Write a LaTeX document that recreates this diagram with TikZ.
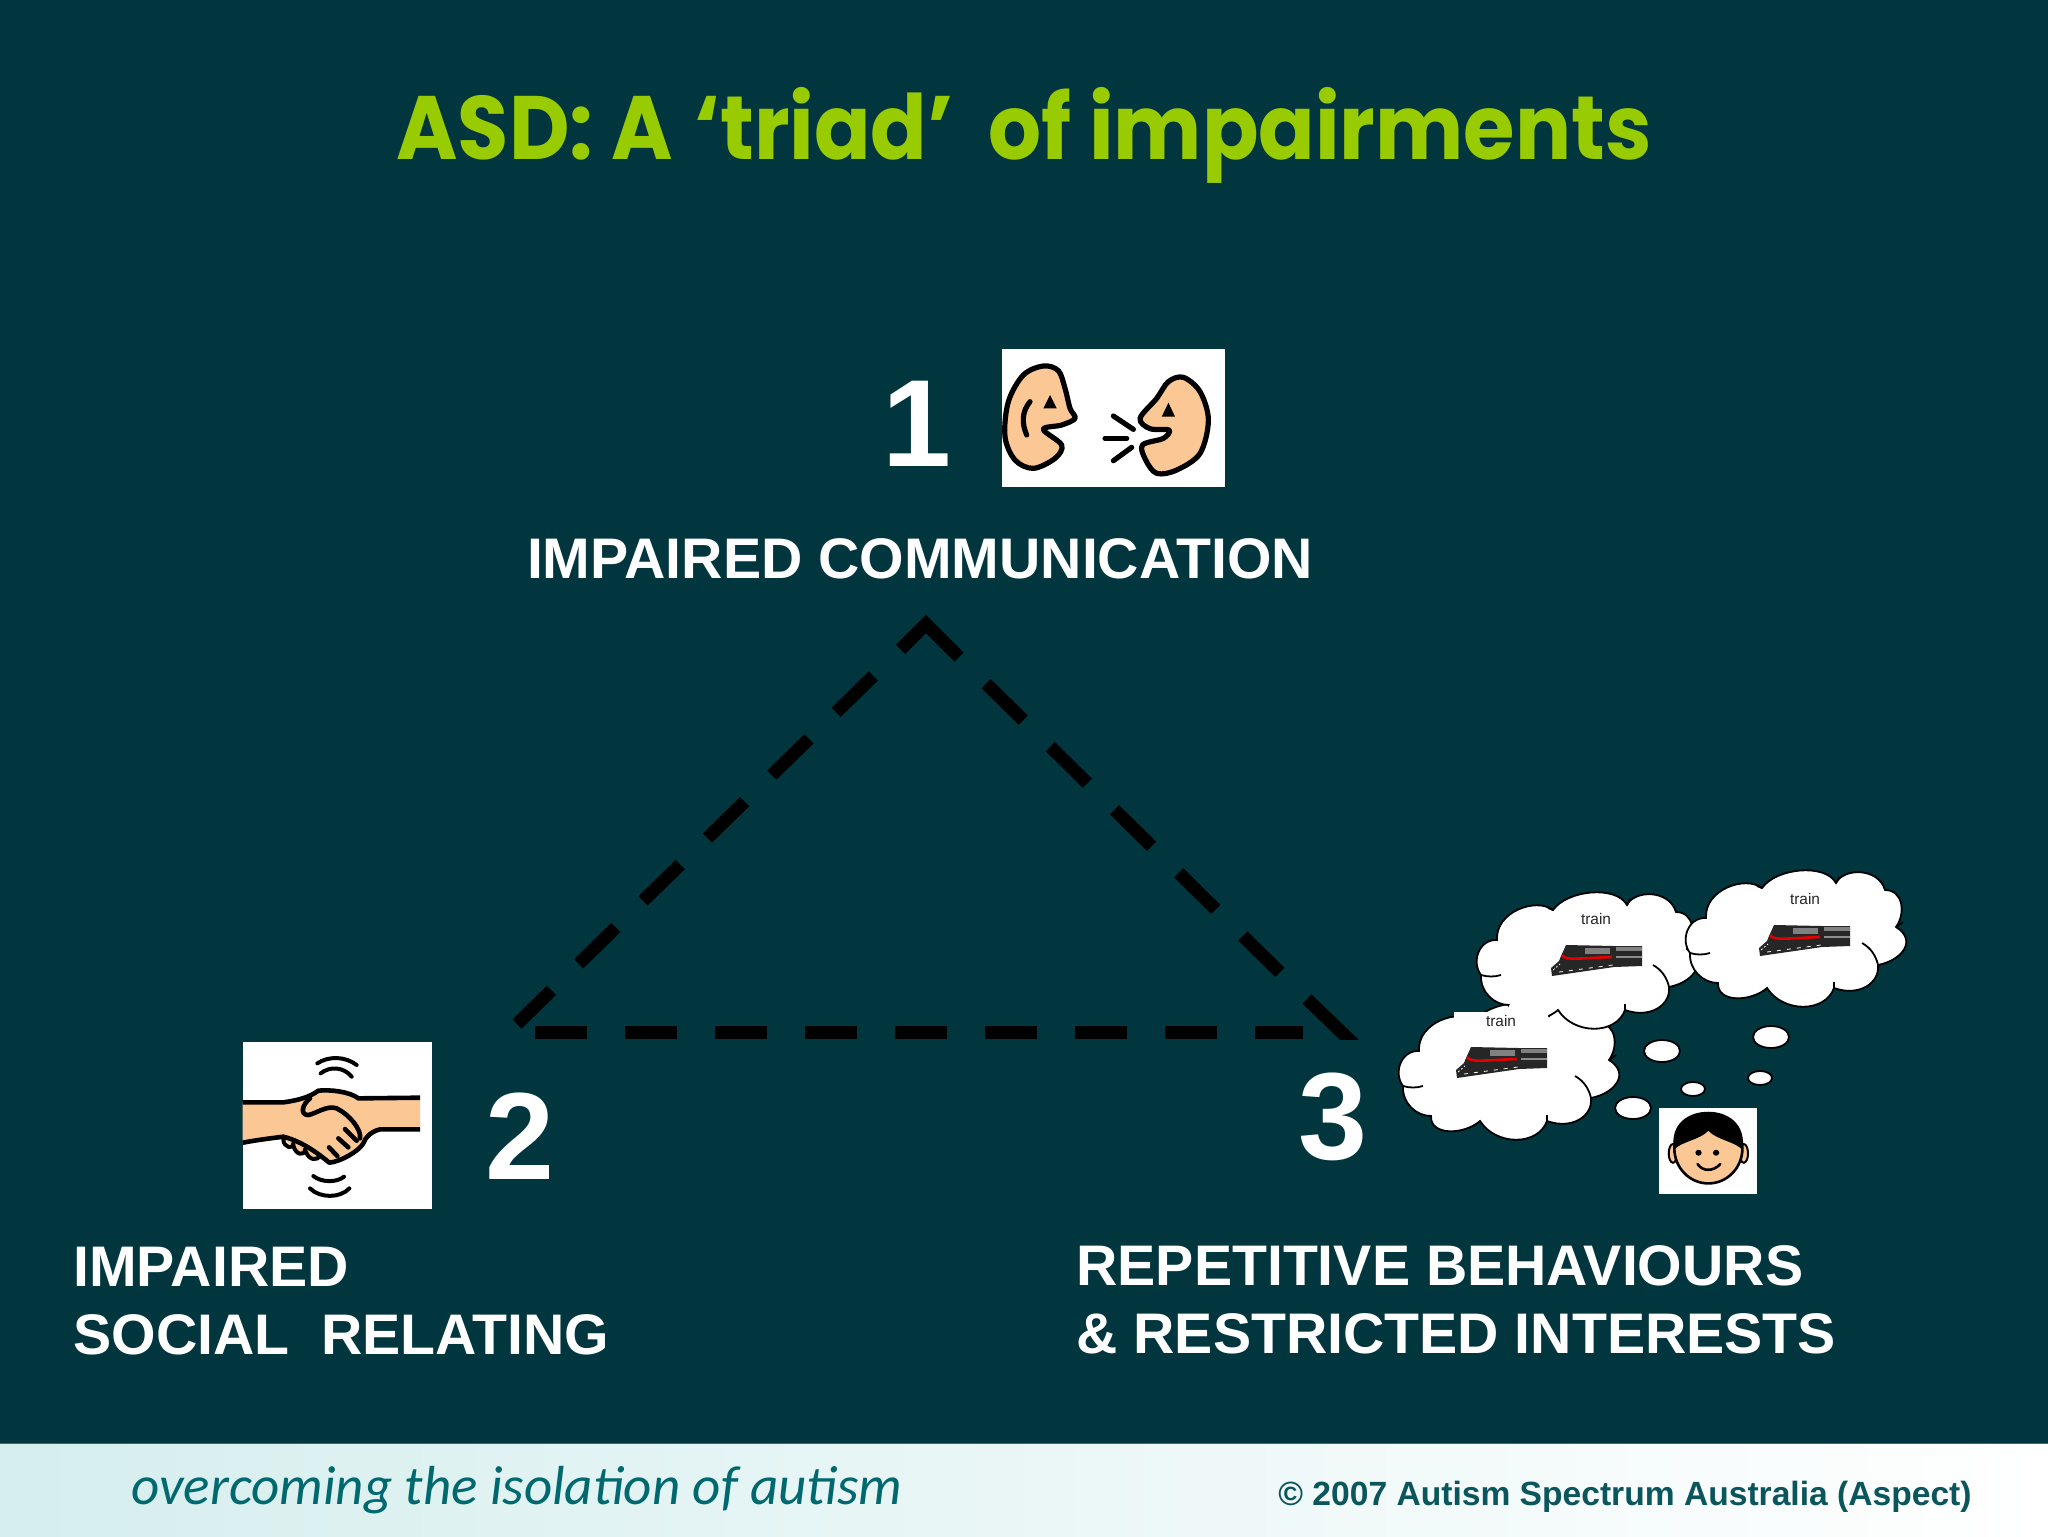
\documentclass[tikz,border=0pt]{standalone}
\usepackage{fontspec}
\setmainfont{Liberation Sans}
\newfontfamily\tagfont{Carlito}
\newfontfamily\titlefont[FakeStretch=0.926]{Poppins}
\usetikzlibrary{shapes.geometric,positioning,calc}

\definecolor{slidebg}{HTML}{02363F}
\definecolor{titlegreen}{HTML}{98CC00}
\definecolor{skin}{HTML}{FBC795}
\definecolor{bandleft}{HTML}{D6EEEE}
\definecolor{bandmid}{HTML}{ECF8F8}
\definecolor{tagteal}{HTML}{00696F}
\definecolor{copyteal}{HTML}{0B565C}

% one thought cloud, local origin is top left of its bounds
\newcommand{\thoughtcloud}[2]{%
  \begin{scope}[shift={(#1,#2)}]
    \draw[cloudline] (21,48) .. controls (19,20) and (60,5) .. (77,18)
      .. controls (91,-2) and (140,-7) .. (151,13)
      .. controls (158,-2) and (193,-3) .. (200,20)
      .. controls (218,20) and (221,43) .. (211,57)
      .. controls (232,70) and (218,90) .. (193,95)
      .. controls (195,113) and (174,127) .. (149,118)
      .. controls (140,143) and (98,143) .. (82,118)
      .. controls (66,132) and (32,133) .. (33,113)
      .. controls (18,113) and (4,100) .. (5,83)
      .. controls (-5,70) and (3,47) .. (21,48) -- cycle;
    \draw[cloudhook] (177,73) .. controls (186,78) and (191,86) .. (193,95);
    \draw[cloudhook] (5,83) .. controls (12,85) and (18,85) .. (25,83);
    \draw[cloudhook] (211,57) -- (218,52);
    \draw[cloudhook] (149,118) -- (149,112);
    \draw[cloudhook] (77,18) -- (72,16);
    \draw[cloudhook] (151,13) -- (154,7);
  \end{scope}}

% small locomotive with carriage, 91 by 33
\newcommand{\trainicon}[2]{%
  \begin{scope}[shift={(#1,#2)}]
    \fill[black!85] (10,13) -- (15,2) -- (63,3) -- (91,3) -- (91,23) -- (63,24) -- (1,33) -- (0,25) -- (8,18) -- cycle;
    \fill[black!50] (34,5) rectangle (59,11);
    \fill[black!50] (65,4) rectangle (91,8);
    \fill[black!45] (65,13) rectangle (91,14.5);
    \draw[red!90!black, line width=1.3pt] (11,12) .. controls (14,18) and (30,15) .. (61,14);
    \draw[white, line width=0.4pt, dash pattern=on 2pt off 3pt] (8,29) -- (62,22);
    \draw[white, line width=0.4pt, dash pattern=on 1pt off 1pt] (2,27) -- (9,21);
  \end{scope}}

\begin{document}
\begin{tikzpicture}[
    x=0.5pt, y=-0.5pt,
    titletext/.style={inner sep=0, anchor=base, text=titlegreen, font=\titlefont\fontsize{45}{50}\selectfont\bfseries},
    numtext/.style={inner sep=0, text=white, font=\fontsize{62}{70}\selectfont\bfseries},
    headtext/.style={inner sep=0, anchor=base west, text=white, font=\fontsize{28.6}{34}\selectfont\bfseries, align=left},
    picbox/.style={fill=white, inner sep=0, anchor=north west},
    triline/.style={black, line width=6.5pt},
    tridash/.style={triline, dash pattern=on 26pt off 19pt},
    cloudline/.style={fill=white, draw=black, line width=0.9pt},
    cloudhook/.style={draw=black, line width=0.9pt},
    bubble/.style={ellipse, fill=white, draw=black, line width=0.9pt, inner sep=0},
    bigbubble/.style={bubble, minimum width=18pt, minimum height=11pt},
    smallbubble/.style={bubble, minimum width=12pt, minimum height=7pt},
    trainlabel/.style={inner sep=0, text=black!85, font=\fontsize{7.7}{9}\selectfont},
    iconline/.style={draw=black, line width=2.6pt, line join=round, line cap=round},
    shakeline/.style={iconline, line width=2.3pt}
]
    \useasboundingbox (0,0) rectangle (2048,1536);
    \fill[slidebg] (0,0) rectangle (2048,1536);

    % Footer band
    \shade[left color=bandleft, middle color=bandmid, right color=white] (0,1443) rectangle (2048,1536);
    \draw[slidebg!75!white, line width=0.5pt] (0,1443) -- (2048,1443);
    \node[inner sep=0, anchor=base west, text=tagteal, font=\tagfont\itshape\fontsize{27.5}{30}\selectfont] (tagline) at (131,1504) {overcoming the isolation of autism};
    \node[inner sep=0, anchor=base east, text=copyteal, font=\fontsize{16.8}{20}\selectfont\bfseries] (copyright) at (1972,1505) {© 2007 Autism Spectrum Australia (Aspect)};

    % Title
    \node[titletext] (title) at (1024,159) {ASD: A\hspace{2pt}\ ‘triad’\hspace{8.5pt}\ of impairments};

    % Numbers and labels
    \node[numtext] (one) at (917,424) {1};
    \node[numtext] (two) at (520,1136) {2};
    \node[numtext] (three) at (1333,1117) {3};
    \node[headtext, anchor=base] (comm) at (920,578) {IMPAIRED COMMUNICATION};
    \node[headtext] (social) at (73,1286) {IMPAIRED};
    \node[headtext] (relating) at (73,1354) {SOCIAL\ \ RELATING};
    \node[headtext] (repet) at (1076,1285) {REPETITIVE BEHAVIOURS};
    \node[headtext] (restrict) at (1076,1353) {\& RESTRICTED INTERESTS};

    % Triangle
    \coordinate (apex) at (926,624);
    \coordinate (leftfoot) at (517,1024);
    \coordinate (rightfoot) at (1362,1052);
    \coordinate (apexL) at (902,648);
    \coordinate (apexR) at (959,657);
    \coordinate (lastR) at (1307,999);
    \coordinate (baseL) at (535,1032);
    \coordinate (baseR) at (1303,1032);
    \draw[triline, miter limit=10] (apexL) -- (apex) -- (apexR);
    \draw[tridash, dash phase=25pt] (apexL) -- (leftfoot);
    \draw[tridash, dash phase=26pt] (apexR) -- (lastR);
    \begin{scope}
        \clip (1200,900) rectangle (1400,1039);
        \draw[triline] (lastR) -- (rightfoot);
    \end{scope}
    \draw[tridash] (baseL) -- (baseR);

    % Talking heads
    \node[picbox, minimum width=111.5pt, minimum height=69pt] (talkbox) at (1002,349) {};
    \begin{scope}[shift={(980,330)}, x=0.1667pt, y=-0.1667pt]
        \draw[iconline, fill=skin] plot[smooth cycle, tension=0.55] coordinates {(190,108) (235,122) (255,175) (270,235) (285,265) (245,285) (190,298) (245,345) (225,385) (160,415) (105,390) (75,320) (85,215) (130,135)};
        \fill[black] (190,235) -- (210,195) -- (230,235) -- cycle;
        \draw[iconline] (150,215) .. controls (125,245) and (125,280) .. (140,315);
        \draw[iconline, fill=skin] plot[smooth cycle, tension=0.55] coordinates {(610,142) (660,185) (685,270) (660,370) (590,420) (530,430) (497,390) (487,345) (550,325) (567,300) (510,296) (480,265) (530,205) (565,155)};
        \fill[black] (545,260) -- (565,218) -- (585,260) -- cycle;
        \draw[iconline] (400,258) -- (460,298);
        \draw[iconline] (375,325) -- (440,325);
        \draw[iconline] (400,392) -- (455,352);
    \end{scope}

    % Handshake
    \node[picbox, minimum width=94.5pt, minimum height=83.5pt] (shakebox) at (243,1042) {};
    \begin{scope}[shift={(230,1030)}, x=0.1667pt, y=-0.1667pt]
        \fill[skin] (38,215) -- (160,215) -- (240,200) -- (265,180) -- (340,183) -- (385,205) -- (570,203) -- (570,300) -- (450,300) -- (405,330) -- (385,360) -- (300,398) -- (260,385) -- (200,360) -- (160,325) -- (100,322) -- (38,340) -- cycle;
        \draw[shakeline, line cap=butt] (38,217) -- (160,217) .. controls (210,210) and (240,200) .. (265,182) .. controls (300,178) and (360,185) .. (385,205) -- (570,203);
        \draw[shakeline, line cap=butt] (570,298) -- (450,298) .. controls (420,305) and (405,325) .. (400,340) .. controls (385,365) and (330,395) .. (298,398) .. controls (270,375) and (220,335) .. (160,320) .. controls (120,325) and (80,330) .. (38,338);
        \draw[shakeline] (240,205) .. controls (215,225) and (210,255) .. (235,255) .. controls (260,250) and (290,225) .. (320,235) .. controls (360,255) and (395,300) .. (390,325);
        \draw[shakeline] (345,297) -- (380,332);
        \draw[shakeline] (325,325) -- (355,352);
        \draw[shakeline] (297,352) -- (322,378);
        \draw[shakeline, line width=2pt] (160,328) .. controls (160,352) and (190,360) .. (190,340) (190,345) .. controls (195,375) and (225,380) .. (225,358) (228,365) .. controls (235,390) and (265,395) .. (268,375);
        \draw[shakeline, line width=2pt] (262,100) .. controls (295,78) and (345,78) .. (380,105);
        \draw[shakeline, line width=2pt] (272,130) .. controls (300,108) and (340,110) .. (365,140);
        \draw[shakeline, line width=2pt] (250,438) .. controls (275,458) and (320,458) .. (342,440);
        \draw[shakeline, line width=2pt] (240,475) .. controls (270,505) and (330,505) .. (358,475);
    \end{scope}

    % Thought clouds
    \thoughtcloud{1398}{1003}
    \thoughtcloud{1476}{892}
    \fill[white] (1454,1012) -- (1506,1012) -- (1510,1004) -- (1548,1004) -- (1548,1030) -- (1454,1030) -- cycle;
    \thoughtcloud{1685}{870}
    \node[trainlabel] (trainA) at (1501,1021) {train};
    \node[trainlabel] (trainB) at (1596,919) {train};
    \node[trainlabel] (trainC) at (1805,899) {train};
    \trainicon{1456}{1045}
    \trainicon{1551}{943}
    \trainicon{1759}{923}

    % Bubbles
    \node[bigbubble] (bubA) at (1633,1108) {};
    \node[bigbubble] (bubB) at (1662,1051) {};
    \node[bigbubble] (bubC) at (1771,1037) {};
    \node[smallbubble] (bubD) at (1693,1089) {};
    \node[smallbubble] (bubE) at (1760,1078) {};

    % Boy
    \node[picbox, minimum width=49pt, minimum height=43pt] (boybox) at (1659,1108) {};
    \begin{scope}[shift={(1380,860)}, x=0.1754pt, y=-0.1667pt]
        \draw[draw=black, line width=1pt, fill=skin] (835,880) ellipse [x radius=12, y radius=28];
        \draw[draw=black, line width=1pt, fill=skin] (1037,880) ellipse [x radius=12, y radius=28];
        \draw[draw=black, line width=1.3pt, fill=skin] (936,865) ellipse [x radius=97, y radius=105];
        \fill[black] (838,870) .. controls (825,790) and (880,755) .. (936,755) .. controls (990,755) and (1045,790) .. (1033,870) .. controls (1015,845) and (960,840) .. (936,812) .. controls (912,840) and (855,845) .. (838,870) -- cycle;
        \fill[black] (908,878) circle [radius=9];
        \fill[black] (958,878) circle [radius=9];
        \draw[iconline, line width=1.3pt] (905,912) .. controls (920,935) and (950,935) .. (970,912);
    \end{scope}
\end{tikzpicture}
\end{document}
